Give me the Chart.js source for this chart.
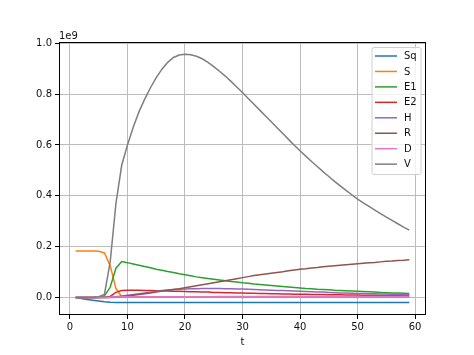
<!DOCTYPE html>
<html lang="en">
<head>
    <meta charset="UTF-8">
    <title>Model states over time</title>
    <style>
        body { margin: 0; background: #fff; }
        canvas { display: block; }
    </style>
</head>
<body>
    <canvas id="chart" width="474" height="355"></canvas>

    <script src="https://cdn.jsdelivr.net/npm/chart.js"></script>
    <script>
        // time steps
        const t = [1, 2, 3, 4, 5, 6, 7, 8, 9, 10,
                   11, 12, 13, 14, 15, 16, 17, 18, 19, 20,
                   21, 22, 23, 24, 25, 26, 27, 28, 29, 30,
                   31, 32, 33, 34, 35, 36, 37, 38, 39, 40,
                   41, 42, 43, 44, 45, 46, 47, 48, 49, 50,
                   51, 52, 53, 54, 55, 56, 57, 58, 59];

        // series values, in units of 1e9
        const Sq = [0, -0.004, -0.008, -0.011, -0.014, -0.017, -0.019, -0.02, -0.02, -0.02,
                    -0.02, -0.02, -0.02, -0.02, -0.02, -0.02, -0.02, -0.02, -0.02, -0.02,
                    -0.02, -0.02, -0.02, -0.02, -0.02, -0.02, -0.02, -0.02, -0.02, -0.02,
                    -0.02, -0.02, -0.02, -0.02, -0.02, -0.02, -0.02, -0.02, -0.02, -0.02,
                    -0.02, -0.02, -0.02, -0.02, -0.02, -0.02, -0.02, -0.02, -0.02, -0.02,
                    -0.02, -0.02, -0.02, -0.02, -0.02, -0.02, -0.02, -0.02, -0.02];
        const S = [0.183, 0.183, 0.183, 0.183, 0.182, 0.175, 0.125, 0.035, 0.004, 0.002,
                   0.001, 0.001, 0.001, 0.001, 0.001, 0.001, 0.001, 0.001, 0.001, 0.001,
                   0.001, 0.001, 0.001, 0.001, 0.001, 0.001, 0.001, 0.001, 0.001, 0.001,
                   0.0005, 0.0005, 0.0005, 0.0005, 0.0005, 0.0005, 0.0005, 0.0005, 0.0005, 0.0005,
                   0.0005, 0.0005, 0.0005, 0.0005, 0.0005, 0.0005, 0.0005, 0.0005, 0.0005, 0.0005,
                   0.0005, 0.0005, 0.0005, 0.0005, 0.0005, 0.0005, 0.0005, 0.0005, 0.0005];
        const E1 = [0, 0, 0, 0, 0.001, 0.006, 0.04, 0.115, 0.141, 0.137,
                    0.132, 0.127, 0.122, 0.117, 0.111, 0.107, 0.102, 0.098, 0.093, 0.089,
                    0.085, 0.081, 0.078, 0.075, 0.072, 0.069, 0.066, 0.063, 0.061, 0.058,
                    0.056, 0.053, 0.051, 0.049, 0.047, 0.045, 0.043, 0.041, 0.039, 0.037,
                    0.035, 0.034, 0.032, 0.031, 0.030, 0.028, 0.027, 0.026, 0.025, 0.024,
                    0.023, 0.022, 0.021, 0.020, 0.019, 0.018, 0.018, 0.017, 0.016];
        const E2 = [0, 0, 0, 0, 0, 0.0005, 0.004, 0.02, 0.027, 0.028,
                    0.028, 0.028, 0.027, 0.027, 0.026, 0.026, 0.025, 0.024, 0.024, 0.023,
                    0.022, 0.022, 0.021, 0.021, 0.020, 0.020, 0.019, 0.019, 0.018, 0.018,
                    0.017, 0.017, 0.016, 0.016, 0.015, 0.015, 0.014, 0.014, 0.013, 0.013,
                    0.013, 0.012, 0.012, 0.012, 0.011, 0.011, 0.011, 0.010, 0.010, 0.010,
                    0.009, 0.009, 0.009, 0.008, 0.008, 0.008, 0.008, 0.007, 0.007];
        const H = [0, 0, 0, 0, 0, 0, 0.001, 0.003, 0.006, 0.009,
                   0.012, 0.015, 0.018, 0.021, 0.024, 0.027, 0.029, 0.031, 0.032, 0.033,
                   0.034, 0.034, 0.035, 0.035, 0.035, 0.035, 0.034, 0.034, 0.033, 0.033,
                   0.032, 0.031, 0.030, 0.029, 0.028, 0.027, 0.027, 0.026, 0.025, 0.024,
                   0.023, 0.022, 0.021, 0.021, 0.020, 0.019, 0.018, 0.018, 0.017, 0.016,
                   0.016, 0.015, 0.015, 0.014, 0.014, 0.013, 0.013, 0.012, 0.012];
        const R = [0, 0, 0, 0, 0, 0, 0, 0.001, 0.003, 0.006,
                   0.009, 0.012, 0.015, 0.018, 0.021, 0.025, 0.028, 0.031, 0.034, 0.038,
                   0.042, 0.046, 0.050, 0.054, 0.058, 0.062, 0.066, 0.070, 0.074, 0.078,
                   0.082, 0.086, 0.089, 0.092, 0.095, 0.098, 0.101, 0.105, 0.108, 0.111,
                   0.113, 0.116, 0.118, 0.121, 0.123, 0.125, 0.127, 0.129, 0.131, 0.133,
                   0.135, 0.137, 0.138, 0.140, 0.142, 0.143, 0.145, 0.146, 0.148];
        const D = [0, 0, 0, 0, 0, 0, 0.001, 0.002, 0.003, 0.003,
                   0.003, 0.003, 0.003, 0.003, 0.003, 0.003, 0.003, 0.003, 0.003, 0.003,
                   0.003, 0.003, 0.003, 0.003, 0.003, 0.004, 0.004, 0.004, 0.004, 0.004,
                   0.004, 0.004, 0.004, 0.004, 0.004, 0.004, 0.004, 0.004, 0.004, 0.004,
                   0.004, 0.004, 0.004, 0.004, 0.004, 0.004, 0.004, 0.004, 0.004, 0.004,
                   0.004, 0.004, 0.004, 0.004, 0.004, 0.004, 0.004, 0.004, 0.004];
        const V = [0, 0, 0, 0.001, 0.003, 0.012, 0.14, 0.37, 0.52, 0.60,
                   0.67, 0.73, 0.78, 0.825, 0.865, 0.898, 0.925, 0.944, 0.954, 0.957,
                   0.955, 0.949, 0.939, 0.925, 0.908, 0.890, 0.871, 0.850, 0.828, 0.806,
                   0.783, 0.760, 0.737, 0.714, 0.691, 0.668, 0.645, 0.622, 0.599, 0.577,
                   0.556, 0.535, 0.515, 0.495, 0.476, 0.457, 0.439, 0.421, 0.404, 0.387,
                   0.372, 0.358, 0.344, 0.330, 0.316, 0.303, 0.290, 0.277, 0.265];

        const seriesNames = ['Sq', 'S', 'E1', 'E2', 'H', 'R', 'D', 'V'];
        const seriesData = [Sq, S, E1, E2, H, R, D, V];
        const colors = ['#1f77b4', '#ff7f0e', '#2ca02c', '#d62728',
                        '#9467bd', '#8c564b', '#e377c2', '#7f7f7f'];

        const FONT = 'DejaVu Sans, sans-serif';
        Chart.defaults.font.family = FONT;
        Chart.defaults.font.size = 10;
        Chart.defaults.color = '#111';

        const datasets = seriesNames.map((name, i) => ({
            label: name,
            data: t.map((x, j) => ({ x: x, y: seriesData[i][j] })),
            borderColor: colors[i],
            backgroundColor: colors[i],
            borderWidth: 1.5,
            pointRadius: 0,
            tension: 0,
            fill: false,
            order: seriesNames.length - i   // later series on top, like matplotlib
        }));

        // frame, offset text and legend box inside the axes
        const decorations = {
            id: 'decorations',
            afterDraw(chart) {
                const ctx = chart.ctx;
                const a = chart.chartArea;
                ctx.save();

                ctx.strokeStyle = '#000';
                ctx.lineWidth = 1;
                ctx.strokeRect(a.left + 0.5, a.top + 0.5, a.right - a.left - 1, a.bottom - a.top - 1);

                ctx.fillStyle = '#111';
                ctx.font = '10px ' + FONT;
                ctx.textAlign = 'left';
                ctx.textBaseline = 'middle';
                ctx.fillText('1e9', a.left, a.top - 6);

                // legend
                const bx = 372, by = 47.5, bw = 49, bh = 127;
                ctx.fillStyle = 'rgba(255,255,255,0.8)';
                ctx.strokeStyle = '#d0d0d0';
                ctx.beginPath();
                ctx.roundRect(bx, by, bw, bh, 2);
                ctx.fill();
                ctx.stroke();

                chart.data.datasets.forEach((ds, i) => {
                    const y = 56 + i * 15.45;
                    ctx.strokeStyle = ds.borderColor;
                    ctx.lineWidth = 1.5;
                    ctx.beginPath();
                    ctx.moveTo(375, y);
                    ctx.lineTo(397, y);
                    ctx.stroke();
                    ctx.fillStyle = '#111';
                    ctx.fillText(ds.label, 404, y + 0.5);
                });
                ctx.restore();
            }
        };

        new Chart(document.getElementById('chart'), {
            type: 'line',
            data: { datasets },
            options: {
                responsive: false,
                animation: false,
                layout: { padding: { top: 42, right: 48, left: 0, bottom: 0 } },
                plugins: {
                    legend: { display: false },
                    tooltip: { enabled: false }
                },
                scales: {
                    x: {
                        type: 'linear',
                        min: -1.9,
                        max: 61.9,
                        border: { display: false },
                        grid: { color: '#bcbcbc', lineWidth: 1, tickLength: 4, tickColor: '#000' },
                        ticks: { stepSize: 10, includeBounds: false, padding: 2, color: '#111' },
                        title: { display: true, text: 't', color: '#111', padding: { top: 1, bottom: 7 } },
                        afterFit: (scale) => { scale.height = 40; }
                    },
                    y: {
                        min: -0.069,
                        max: 1.005,
                        border: { display: false },
                        grid: { color: '#bcbcbc', lineWidth: 1, tickLength: 4, tickColor: '#000' },
                        ticks: {
                            stepSize: 0.2,
                            includeBounds: false,
                            padding: 3,
                            color: '#111',
                            callback: (v) => v.toFixed(1)
                        },
                        afterFit: (scale) => { scale.width = 59; }
                    }
                }
            },
            plugins: [decorations]
        });
    </script>
</body>
</html>
